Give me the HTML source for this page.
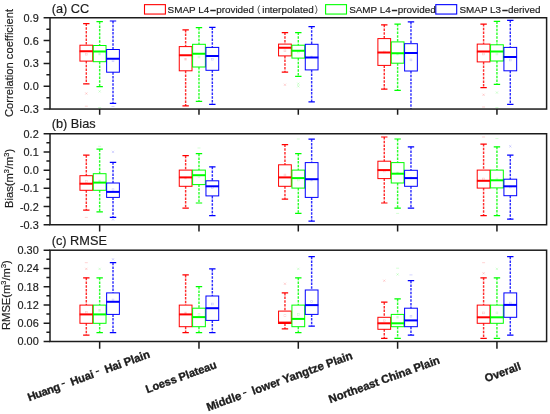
<!DOCTYPE html>
<html><head><meta charset="utf-8"><title>Boxplots</title>
<style>
html,body{margin:0;padding:0;background:#fff}
body{width:550px;height:414px;position:relative;overflow:hidden;font-family:"Liberation Sans","Noto Sans CJK SC",sans-serif;color:#1c1c1c}
.t{position:absolute;white-space:nowrap;line-height:1;-webkit-text-stroke:0.18px currentColor}
.tk{font-size:10.9px;text-align:right;width:40px;left:-1.3px}
.ti{font-size:12.75px;left:51.7px}
.lg{font-size:9.9px;top:5.0px}
.yl{font-size:11.2px;transform-origin:0 0;transform:rotate(-90deg)}
.xl{font-size:11.4px;font-weight:bold;-webkit-text-stroke:0.35px currentColor;transform-origin:0 100%;transform:rotate(-19.9deg)}
.xl i{font-style:normal;font-weight:normal;-webkit-text-stroke:0;display:inline-block;width:9px;box-sizing:border-box;padding-left:2.2px;text-align:left;position:relative;top:-1.3px;font-size:14.5px;line-height:0}
.lg b{font-weight:bold}
sup{font-size:66%;vertical-align:baseline;position:relative;top:-0.53em;line-height:0}

</style></head><body>
<svg width="550" height="414" viewBox="0 0 550 414" style="position:absolute;left:0;top:0">
<filter id="bl" x="-5%" y="-5%" width="110%" height="110%"><feGaussianBlur stdDeviation="0.3"/></filter>
<g fill="none" stroke-linecap="butt" filter="url(#bl)">
<clipPath id="cp0"><rect x="50.0" y="17.75" width="496.6" height="91.3"/></clipPath>
<g clip-path="url(#cp0)">
<g stroke="#ff0000">
<path d="M86.31 23.60V45.20M86.31 61.10V83.80" stroke-width="1.45" stroke-opacity="0.82" stroke-dasharray="2.5 1.2"/>
<path d="M83.11 23.60H89.51M83.11 83.80H89.51" stroke-width="1.2"/>
<rect x="79.94" y="45.20" width="12.75" height="15.90" stroke-width="1.0"/>
<path d="M79.64 51.30H92.98" stroke-width="2.0"/>
<rect x="85.41" y="53.30" width="1.8" height="1.8" stroke-width="0.6" opacity="0.22"/>
<path d="M85.16 92.35l2.3 2.3m-2.3 0l2.3 -2.3" stroke-width="0.75" opacity="0.22"/>
<path d="M84.81 106.20h3" stroke-width="0.8" opacity="0.22"/>
</g>
<g stroke="#00ff00">
<path d="M99.66 21.70V45.50M99.66 61.70V86.70" stroke-width="1.45" stroke-opacity="0.82" stroke-dasharray="2.5 1.2"/>
<path d="M96.46 21.70H102.86M96.46 86.70H102.86" stroke-width="1.2"/>
<rect x="93.28" y="45.50" width="12.75" height="16.20" stroke-width="1.0"/>
<path d="M92.98 51.60H106.33" stroke-width="2.0"/>
<rect x="98.76" y="53.10" width="1.8" height="1.8" stroke-width="0.6" opacity="0.22"/>
<path d="M98.51 90.25l2.3 2.3m-2.3 0l2.3 -2.3" stroke-width="0.75" opacity="0.22"/>
<path d="M98.16 107.50h3" stroke-width="0.8" opacity="0.22"/>
</g>
<g stroke="#0000ff">
<path d="M113.01 21.00V49.50M113.01 72.20V103.40" stroke-width="1.45" stroke-opacity="0.82" stroke-dasharray="2.5 1.2"/>
<path d="M109.81 21.00H116.21M109.81 103.40H116.21" stroke-width="1.2"/>
<rect x="106.63" y="49.50" width="12.75" height="22.70" stroke-width="1.0"/>
<path d="M106.33 58.80H119.68" stroke-width="2.0"/>
<rect x="112.11" y="59.90" width="1.8" height="1.8" stroke-width="0.6" opacity="0.22"/>
<path d="M111.51 106.50h3" stroke-width="0.8" opacity="0.22"/>
</g>
<g stroke="#ff0000">
<path d="M185.63 29.90V46.60M185.63 70.80V105.90" stroke-width="1.45" stroke-opacity="0.82" stroke-dasharray="2.5 1.2"/>
<path d="M182.43 29.90H188.83M182.43 105.90H188.83" stroke-width="1.2"/>
<rect x="179.26" y="46.60" width="12.75" height="24.20" stroke-width="1.0"/>
<path d="M178.96 55.20H192.31" stroke-width="2.0"/>
<rect x="184.73" y="58.30" width="1.8" height="1.8" stroke-width="0.6" opacity="0.22"/>
</g>
<g stroke="#00ff00">
<path d="M198.98 27.70V44.30M198.98 67.00V101.40" stroke-width="1.45" stroke-opacity="0.82" stroke-dasharray="2.5 1.2"/>
<path d="M195.78 27.70H202.18M195.78 101.40H202.18" stroke-width="1.2"/>
<rect x="192.61" y="44.30" width="12.75" height="22.70" stroke-width="1.0"/>
<path d="M192.31 53.70H205.66" stroke-width="2.0"/>
<rect x="198.08" y="56.10" width="1.8" height="1.8" stroke-width="0.6" opacity="0.22"/>
</g>
<g stroke="#0000ff">
<path d="M212.33 27.40V47.40M212.33 70.30V104.30" stroke-width="1.45" stroke-opacity="0.82" stroke-dasharray="2.5 1.2"/>
<path d="M209.13 27.40H215.53M209.13 104.30H215.53" stroke-width="1.2"/>
<rect x="205.96" y="47.40" width="12.75" height="22.90" stroke-width="1.0"/>
<path d="M205.66 55.90H219.01" stroke-width="2.0"/>
<rect x="211.43" y="58.30" width="1.8" height="1.8" stroke-width="0.6" opacity="0.22"/>
</g>
<g stroke="#ff0000">
<path d="M284.95 32.60V44.10M284.95 55.90V72.10" stroke-width="1.45" stroke-opacity="0.82" stroke-dasharray="2.5 1.2"/>
<path d="M281.75 32.60H288.15M281.75 72.10H288.15" stroke-width="1.2"/>
<rect x="278.57" y="44.10" width="12.75" height="11.80" stroke-width="1.0"/>
<path d="M278.27 47.70H291.62" stroke-width="2.0"/>
<rect x="284.05" y="49.90" width="1.8" height="1.8" stroke-width="0.6" opacity="0.22"/>
<path d="M283.80 83.65l2.3 2.3m-2.3 0l2.3 -2.3" stroke-width="0.75" opacity="0.22"/>
</g>
<g stroke="#00ff00">
<path d="M298.30 32.60V45.20M298.30 58.10V76.30" stroke-width="1.45" stroke-opacity="0.82" stroke-dasharray="2.5 1.2"/>
<path d="M295.10 32.60H301.50M295.10 76.30H301.50" stroke-width="1.2"/>
<rect x="291.93" y="45.20" width="12.75" height="12.90" stroke-width="1.0"/>
<path d="M291.62 50.80H304.98" stroke-width="2.0"/>
<rect x="297.40" y="51.10" width="1.8" height="1.8" stroke-width="0.6" opacity="0.22"/>
<path d="M297.15 82.55l2.3 2.3m-2.3 0l2.3 -2.3" stroke-width="0.75" opacity="0.22"/>
<path d="M297.15 85.15l2.3 2.3m-2.3 0l2.3 -2.3" stroke-width="0.75" opacity="0.22"/>
</g>
<g stroke="#0000ff">
<path d="M311.65 26.60V44.30M311.65 69.90V101.90" stroke-width="1.45" stroke-opacity="0.82" stroke-dasharray="2.5 1.2"/>
<path d="M308.45 26.60H314.85M308.45 101.90H314.85" stroke-width="1.2"/>
<rect x="305.28" y="44.30" width="12.75" height="25.60" stroke-width="1.0"/>
<path d="M304.98 57.40H318.33" stroke-width="2.0"/>
<rect x="310.75" y="56.10" width="1.8" height="1.8" stroke-width="0.6" opacity="0.22"/>
</g>
<g stroke="#ff0000">
<path d="M384.27 24.80V38.60M384.27 65.40V89.20" stroke-width="1.45" stroke-opacity="0.82" stroke-dasharray="2.5 1.2"/>
<path d="M381.07 24.80H387.47M381.07 89.20H387.47" stroke-width="1.2"/>
<rect x="377.89" y="38.60" width="12.75" height="26.80" stroke-width="1.0"/>
<path d="M377.59 52.60H390.94" stroke-width="2.0"/>
<rect x="383.37" y="51.10" width="1.8" height="1.8" stroke-width="0.6" opacity="0.22"/>
</g>
<g stroke="#00ff00">
<path d="M397.62 24.10V41.90M397.62 63.20V90.30" stroke-width="1.45" stroke-opacity="0.82" stroke-dasharray="2.5 1.2"/>
<path d="M394.42 24.10H400.82M394.42 90.30H400.82" stroke-width="1.2"/>
<rect x="391.25" y="41.90" width="12.75" height="21.30" stroke-width="1.0"/>
<path d="M390.94 53.20H404.30" stroke-width="2.0"/>
<rect x="396.72" y="53.10" width="1.8" height="1.8" stroke-width="0.6" opacity="0.22"/>
</g>
<g stroke="#0000ff">
<path d="M410.97 21.90V43.70M410.97 71.00V112.05" stroke-width="1.45" stroke-opacity="0.82" stroke-dasharray="2.5 1.2"/>
<path d="M407.77 21.90H414.17" stroke-width="1.2"/>
<rect x="404.60" y="43.70" width="12.75" height="27.30" stroke-width="1.0"/>
<path d="M404.30 53.00H417.65" stroke-width="2.0"/>
<rect x="410.07" y="59.00" width="1.8" height="1.8" stroke-width="0.6" opacity="0.22"/>
</g>
<g stroke="#ff0000">
<path d="M483.59 24.10V44.10M483.59 61.90V87.70" stroke-width="1.45" stroke-opacity="0.82" stroke-dasharray="2.5 1.2"/>
<path d="M480.39 24.10H486.79M480.39 87.70H486.79" stroke-width="1.2"/>
<rect x="477.22" y="44.10" width="12.75" height="17.80" stroke-width="1.0"/>
<path d="M476.92 51.40H490.27" stroke-width="2.0"/>
<rect x="482.69" y="53.10" width="1.8" height="1.8" stroke-width="0.6" opacity="0.22"/>
<path d="M482.44 93.65l2.3 2.3m-2.3 0l2.3 -2.3" stroke-width="0.75" opacity="0.22"/>
<path d="M482.09 107.00h3" stroke-width="0.8" opacity="0.22"/>
</g>
<g stroke="#00ff00">
<path d="M496.94 21.40V44.80M496.94 61.00V84.30" stroke-width="1.45" stroke-opacity="0.82" stroke-dasharray="2.5 1.2"/>
<path d="M493.74 21.40H500.14M493.74 84.30H500.14" stroke-width="1.2"/>
<rect x="490.57" y="44.80" width="12.75" height="16.20" stroke-width="1.0"/>
<path d="M490.27 51.40H503.62" stroke-width="2.0"/>
<rect x="496.04" y="53.10" width="1.8" height="1.8" stroke-width="0.6" opacity="0.22"/>
<path d="M495.79 91.45l2.3 2.3m-2.3 0l2.3 -2.3" stroke-width="0.75" opacity="0.22"/>
<path d="M495.44 107.50h3" stroke-width="0.8" opacity="0.22"/>
</g>
<g stroke="#0000ff">
<path d="M510.29 20.30V47.40M510.29 70.80V104.30" stroke-width="1.45" stroke-opacity="0.82" stroke-dasharray="2.5 1.2"/>
<path d="M507.09 20.30H513.49M507.09 104.30H513.49" stroke-width="1.2"/>
<rect x="503.92" y="47.40" width="12.75" height="23.40" stroke-width="1.0"/>
<path d="M503.62 57.00H516.97" stroke-width="2.0"/>
<rect x="509.39" y="59.10" width="1.8" height="1.8" stroke-width="0.6" opacity="0.22"/>
</g>
</g>
<clipPath id="cp1"><rect x="50.0" y="133.75" width="496.6" height="91.0"/></clipPath>
<g clip-path="url(#cp1)">
<g stroke="#ff0000">
<path d="M86.31 155.20V175.70M86.31 190.30V210.10" stroke-width="1.45" stroke-opacity="0.82" stroke-dasharray="2.5 1.2"/>
<path d="M83.11 155.20H89.51M83.11 210.10H89.51" stroke-width="1.2"/>
<rect x="79.94" y="175.70" width="12.75" height="14.60" stroke-width="1.0"/>
<path d="M79.64 183.70H92.98" stroke-width="2.0"/>
<rect x="85.41" y="180.50" width="1.8" height="1.8" stroke-width="0.6" opacity="0.22"/>
<path d="M84.81 217.40h3" stroke-width="0.8" opacity="0.22"/>
</g>
<g stroke="#00ff00">
<path d="M99.66 149.20V173.70M99.66 190.30V211.90" stroke-width="1.45" stroke-opacity="0.82" stroke-dasharray="2.5 1.2"/>
<path d="M96.46 149.20H102.86M96.46 211.90H102.86" stroke-width="1.2"/>
<rect x="93.28" y="173.70" width="12.75" height="16.60" stroke-width="1.0"/>
<path d="M92.98 182.60H106.33" stroke-width="2.0"/>
<rect x="98.76" y="180.10" width="1.8" height="1.8" stroke-width="0.6" opacity="0.22"/>
<path d="M98.16 146.30h3" stroke-width="0.8" opacity="0.22"/>
</g>
<g stroke="#0000ff">
<path d="M113.01 162.30V183.00M113.01 197.40V217.40" stroke-width="1.45" stroke-opacity="0.82" stroke-dasharray="2.5 1.2"/>
<path d="M109.81 162.30H116.21M109.81 217.40H116.21" stroke-width="1.2"/>
<rect x="106.63" y="183.00" width="12.75" height="14.40" stroke-width="1.0"/>
<path d="M106.33 191.90H119.68" stroke-width="2.0"/>
<rect x="112.11" y="188.80" width="1.8" height="1.8" stroke-width="0.6" opacity="0.22"/>
<path d="M111.86 150.75l2.3 2.3m-2.3 0l2.3 -2.3" stroke-width="0.75" opacity="0.22"/>
<path d="M111.86 218.35l2.3 2.3m-2.3 0l2.3 -2.3" stroke-width="0.75" opacity="0.22"/>
</g>
<g stroke="#ff0000">
<path d="M185.63 155.70V170.10M185.63 186.30V208.10" stroke-width="1.45" stroke-opacity="0.82" stroke-dasharray="2.5 1.2"/>
<path d="M182.43 155.70H188.83M182.43 208.10H188.83" stroke-width="1.2"/>
<rect x="179.26" y="170.10" width="12.75" height="16.20" stroke-width="1.0"/>
<path d="M178.96 177.40H192.31" stroke-width="2.0"/>
<rect x="184.73" y="177.10" width="1.8" height="1.8" stroke-width="0.6" opacity="0.22"/>
</g>
<g stroke="#00ff00">
<path d="M198.98 153.70V170.10M198.98 184.60V203.00" stroke-width="1.45" stroke-opacity="0.82" stroke-dasharray="2.5 1.2"/>
<path d="M195.78 153.70H202.18M195.78 203.00H202.18" stroke-width="1.2"/>
<rect x="192.61" y="170.10" width="12.75" height="14.50" stroke-width="1.0"/>
<path d="M192.31 175.20H205.66" stroke-width="2.0"/>
<rect x="198.08" y="175.60" width="1.8" height="1.8" stroke-width="0.6" opacity="0.22"/>
<path d="M197.48 148.00h3" stroke-width="0.8" opacity="0.22"/>
</g>
<g stroke="#0000ff">
<path d="M212.33 166.80V180.80M212.33 195.90V215.70" stroke-width="1.45" stroke-opacity="0.82" stroke-dasharray="2.5 1.2"/>
<path d="M209.13 166.80H215.53M209.13 215.70H215.53" stroke-width="1.2"/>
<rect x="205.96" y="180.80" width="12.75" height="15.10" stroke-width="1.0"/>
<path d="M205.66 186.30H219.01" stroke-width="2.0"/>
<rect x="211.43" y="186.60" width="1.8" height="1.8" stroke-width="0.6" opacity="0.22"/>
</g>
<g stroke="#ff0000">
<path d="M284.95 144.60V164.80M284.95 186.30V199.20" stroke-width="1.45" stroke-opacity="0.82" stroke-dasharray="2.5 1.2"/>
<path d="M281.75 144.60H288.15M281.75 199.20H288.15" stroke-width="1.2"/>
<rect x="278.57" y="164.80" width="12.75" height="21.50" stroke-width="1.0"/>
<path d="M278.27 177.40H291.62" stroke-width="2.0"/>
<rect x="284.05" y="174.10" width="1.8" height="1.8" stroke-width="0.6" opacity="0.22"/>
</g>
<g stroke="#00ff00">
<path d="M298.30 153.70V170.10M298.30 188.10V213.40" stroke-width="1.45" stroke-opacity="0.82" stroke-dasharray="2.5 1.2"/>
<path d="M295.10 153.70H301.50M295.10 213.40H301.50" stroke-width="1.2"/>
<rect x="291.93" y="170.10" width="12.75" height="18.00" stroke-width="1.0"/>
<path d="M291.62 178.10H304.98" stroke-width="2.0"/>
<rect x="297.40" y="179.10" width="1.8" height="1.8" stroke-width="0.6" opacity="0.22"/>
<path d="M296.80 139.00h3" stroke-width="0.8" opacity="0.22"/>
</g>
<g stroke="#0000ff">
<path d="M311.65 139.20V162.60M311.65 197.40V221.20" stroke-width="1.45" stroke-opacity="0.82" stroke-dasharray="2.5 1.2"/>
<path d="M308.45 139.20H314.85M308.45 221.20H314.85" stroke-width="1.2"/>
<rect x="305.28" y="162.60" width="12.75" height="34.80" stroke-width="1.0"/>
<path d="M304.98 179.20H318.33" stroke-width="2.0"/>
<rect x="310.75" y="179.10" width="1.8" height="1.8" stroke-width="0.6" opacity="0.22"/>
</g>
<g stroke="#ff0000">
<path d="M384.27 137.00V161.20M384.27 178.60V203.00" stroke-width="1.45" stroke-opacity="0.82" stroke-dasharray="2.5 1.2"/>
<path d="M381.07 137.00H387.47M381.07 203.00H387.47" stroke-width="1.2"/>
<rect x="377.89" y="161.20" width="12.75" height="17.40" stroke-width="1.0"/>
<path d="M377.59 170.10H390.94" stroke-width="2.0"/>
<rect x="383.37" y="170.10" width="1.8" height="1.8" stroke-width="0.6" opacity="0.22"/>
</g>
<g stroke="#00ff00">
<path d="M397.62 139.00V162.60M397.62 183.00V208.10" stroke-width="1.45" stroke-opacity="0.82" stroke-dasharray="2.5 1.2"/>
<path d="M394.42 139.00H400.82M394.42 208.10H400.82" stroke-width="1.2"/>
<rect x="391.25" y="162.60" width="12.75" height="20.40" stroke-width="1.0"/>
<path d="M390.94 173.70H404.30" stroke-width="2.0"/>
<rect x="396.72" y="172.10" width="1.8" height="1.8" stroke-width="0.6" opacity="0.22"/>
<path d="M396.12 213.40h3" stroke-width="0.8" opacity="0.22"/>
</g>
<g stroke="#0000ff">
<path d="M410.97 146.80V170.30M410.97 186.30V208.10" stroke-width="1.45" stroke-opacity="0.82" stroke-dasharray="2.5 1.2"/>
<path d="M407.77 146.80H414.17M407.77 208.10H414.17" stroke-width="1.2"/>
<rect x="404.60" y="170.30" width="12.75" height="16.00" stroke-width="1.0"/>
<path d="M404.30 178.10H417.65" stroke-width="2.0"/>
<rect x="410.07" y="177.10" width="1.8" height="1.8" stroke-width="0.6" opacity="0.22"/>
</g>
<g stroke="#ff0000">
<path d="M483.59 144.10V170.10M483.59 188.10V215.70" stroke-width="1.45" stroke-opacity="0.82" stroke-dasharray="2.5 1.2"/>
<path d="M480.39 144.10H486.79M480.39 215.70H486.79" stroke-width="1.2"/>
<rect x="477.22" y="170.10" width="12.75" height="18.00" stroke-width="1.0"/>
<path d="M476.92 180.80H490.27" stroke-width="2.0"/>
<rect x="482.69" y="178.10" width="1.8" height="1.8" stroke-width="0.6" opacity="0.22"/>
<path d="M482.09 137.00h3" stroke-width="0.8" opacity="0.22"/>
</g>
<g stroke="#00ff00">
<path d="M496.94 146.80V170.10M496.94 187.90V215.70" stroke-width="1.45" stroke-opacity="0.82" stroke-dasharray="2.5 1.2"/>
<path d="M493.74 146.80H500.14M493.74 215.70H500.14" stroke-width="1.2"/>
<rect x="490.57" y="170.10" width="12.75" height="17.80" stroke-width="1.0"/>
<path d="M490.27 180.30H503.62" stroke-width="2.0"/>
<rect x="496.04" y="178.10" width="1.8" height="1.8" stroke-width="0.6" opacity="0.22"/>
<path d="M495.44 138.60h3" stroke-width="0.8" opacity="0.22"/>
</g>
<g stroke="#0000ff">
<path d="M510.29 155.20V179.20M510.29 195.70V219.20" stroke-width="1.45" stroke-opacity="0.82" stroke-dasharray="2.5 1.2"/>
<path d="M507.09 155.20H513.49M507.09 219.20H513.49" stroke-width="1.2"/>
<rect x="503.92" y="179.20" width="12.75" height="16.50" stroke-width="1.0"/>
<path d="M503.62 186.30H516.97" stroke-width="2.0"/>
<rect x="509.39" y="186.10" width="1.8" height="1.8" stroke-width="0.6" opacity="0.22"/>
<path d="M509.14 145.15l2.3 2.3m-2.3 0l2.3 -2.3" stroke-width="0.75" opacity="0.22"/>
</g>
</g>
<clipPath id="cp2"><rect x="50.0" y="250.2" width="496.6" height="91.30000000000001"/></clipPath>
<g clip-path="url(#cp2)">
<g stroke="#ff0000">
<path d="M86.31 277.80V305.10M86.31 323.30V335.10" stroke-width="1.45" stroke-opacity="0.82" stroke-dasharray="2.5 1.2"/>
<path d="M83.11 277.80H89.51M83.11 335.10H89.51" stroke-width="1.2"/>
<rect x="79.94" y="305.10" width="12.75" height="18.20" stroke-width="1.0"/>
<path d="M79.64 314.40H92.98" stroke-width="2.0"/>
<rect x="85.41" y="311.30" width="1.8" height="1.8" stroke-width="0.6" opacity="0.22"/>
<path d="M85.16 267.75l2.3 2.3m-2.3 0l2.3 -2.3" stroke-width="0.75" opacity="0.22"/>
<path d="M84.81 262.70h3" stroke-width="0.8" opacity="0.22"/>
</g>
<g stroke="#00ff00">
<path d="M99.66 277.80V305.10M99.66 323.30V332.70" stroke-width="1.45" stroke-opacity="0.82" stroke-dasharray="2.5 1.2"/>
<path d="M96.46 277.80H102.86M96.46 332.70H102.86" stroke-width="1.2"/>
<rect x="93.28" y="305.10" width="12.75" height="18.20" stroke-width="1.0"/>
<path d="M92.98 314.40H106.33" stroke-width="2.0"/>
<rect x="98.76" y="309.50" width="1.8" height="1.8" stroke-width="0.6" opacity="0.22"/>
<path d="M98.51 267.75l2.3 2.3m-2.3 0l2.3 -2.3" stroke-width="0.75" opacity="0.22"/>
</g>
<g stroke="#0000ff">
<path d="M113.01 262.70V292.90M113.01 314.40V332.70" stroke-width="1.45" stroke-opacity="0.82" stroke-dasharray="2.5 1.2"/>
<path d="M109.81 262.70H116.21M109.81 332.70H116.21" stroke-width="1.2"/>
<rect x="106.63" y="292.90" width="12.75" height="21.50" stroke-width="1.0"/>
<path d="M106.33 301.80H119.68" stroke-width="2.0"/>
<rect x="112.11" y="299.10" width="1.8" height="1.8" stroke-width="0.6" opacity="0.22"/>
<path d="M111.86 258.15l2.3 2.3m-2.3 0l2.3 -2.3" stroke-width="0.75" opacity="0.22"/>
</g>
<g stroke="#ff0000">
<path d="M185.63 274.90V305.10M185.63 326.70V332.70" stroke-width="1.45" stroke-opacity="0.82" stroke-dasharray="2.5 1.2"/>
<path d="M182.43 274.90H188.83M182.43 332.70H188.83" stroke-width="1.2"/>
<rect x="179.26" y="305.10" width="12.75" height="21.60" stroke-width="1.0"/>
<path d="M178.96 314.40H192.31" stroke-width="2.0"/>
<rect x="184.73" y="312.10" width="1.8" height="1.8" stroke-width="0.6" opacity="0.22"/>
</g>
<g stroke="#00ff00">
<path d="M198.98 286.70V308.20M198.98 326.70V332.70" stroke-width="1.45" stroke-opacity="0.82" stroke-dasharray="2.5 1.2"/>
<path d="M195.78 286.70H202.18M195.78 332.70H202.18" stroke-width="1.2"/>
<rect x="192.61" y="308.20" width="12.75" height="18.50" stroke-width="1.0"/>
<path d="M192.31 317.10H205.66" stroke-width="2.0"/>
<rect x="198.08" y="313.60" width="1.8" height="1.8" stroke-width="0.6" opacity="0.22"/>
</g>
<g stroke="#0000ff">
<path d="M212.33 268.90V296.00M212.33 320.40V332.70" stroke-width="1.45" stroke-opacity="0.82" stroke-dasharray="2.5 1.2"/>
<path d="M209.13 268.90H215.53M209.13 332.70H215.53" stroke-width="1.2"/>
<rect x="205.96" y="296.00" width="12.75" height="24.40" stroke-width="1.0"/>
<path d="M205.66 308.20H219.01" stroke-width="2.0"/>
<rect x="211.43" y="303.10" width="1.8" height="1.8" stroke-width="0.6" opacity="0.22"/>
</g>
<g stroke="#ff0000">
<path d="M284.95 292.90V311.10M284.95 323.50V328.90" stroke-width="1.45" stroke-opacity="0.82" stroke-dasharray="2.5 1.2"/>
<path d="M281.75 292.90H288.15M281.75 328.90H288.15" stroke-width="1.2"/>
<rect x="278.57" y="311.10" width="12.75" height="12.40" stroke-width="1.0"/>
<path d="M278.27 322.60H291.62" stroke-width="2.0"/>
<rect x="284.05" y="314.70" width="1.8" height="1.8" stroke-width="0.6" opacity="0.22"/>
<path d="M283.80 282.65l2.3 2.3m-2.3 0l2.3 -2.3" stroke-width="0.75" opacity="0.22"/>
</g>
<g stroke="#00ff00">
<path d="M298.30 277.80V305.10M298.30 326.70V332.70" stroke-width="1.45" stroke-opacity="0.82" stroke-dasharray="2.5 1.2"/>
<path d="M295.10 277.80H301.50M295.10 332.70H301.50" stroke-width="1.2"/>
<rect x="291.93" y="305.10" width="12.75" height="21.60" stroke-width="1.0"/>
<path d="M291.62 318.90H304.98" stroke-width="2.0"/>
<rect x="297.40" y="313.50" width="1.8" height="1.8" stroke-width="0.6" opacity="0.22"/>
<path d="M297.15 267.75l2.3 2.3m-2.3 0l2.3 -2.3" stroke-width="0.75" opacity="0.22"/>
</g>
<g stroke="#0000ff">
<path d="M311.65 256.70V290.00M311.65 314.40V326.20" stroke-width="1.45" stroke-opacity="0.82" stroke-dasharray="2.5 1.2"/>
<path d="M308.45 256.70H314.85M308.45 326.20H314.85" stroke-width="1.2"/>
<rect x="305.28" y="290.00" width="12.75" height="24.40" stroke-width="1.0"/>
<path d="M304.98 305.10H318.33" stroke-width="2.0"/>
<rect x="310.75" y="300.70" width="1.8" height="1.8" stroke-width="0.6" opacity="0.22"/>
</g>
<g stroke="#ff0000">
<path d="M384.27 302.20V317.30M384.27 329.30V338.40" stroke-width="1.45" stroke-opacity="0.82" stroke-dasharray="2.5 1.2"/>
<path d="M381.07 302.20H387.47M381.07 338.40H387.47" stroke-width="1.2"/>
<rect x="377.89" y="317.30" width="12.75" height="12.00" stroke-width="1.0"/>
<path d="M377.59 323.30H390.94" stroke-width="2.0"/>
<rect x="383.37" y="319.80" width="1.8" height="1.8" stroke-width="0.6" opacity="0.22"/>
<path d="M383.12 279.55l2.3 2.3m-2.3 0l2.3 -2.3" stroke-width="0.75" opacity="0.22"/>
</g>
<g stroke="#00ff00">
<path d="M397.62 298.90V314.40M397.62 326.70V338.40" stroke-width="1.45" stroke-opacity="0.82" stroke-dasharray="2.5 1.2"/>
<path d="M394.42 298.90H400.82M394.42 338.40H400.82" stroke-width="1.2"/>
<rect x="391.25" y="314.40" width="12.75" height="12.30" stroke-width="1.0"/>
<path d="M390.94 323.30H404.30" stroke-width="2.0"/>
<rect x="396.72" y="316.40" width="1.8" height="1.8" stroke-width="0.6" opacity="0.22"/>
<path d="M396.47 273.25l2.3 2.3m-2.3 0l2.3 -2.3" stroke-width="0.75" opacity="0.22"/>
<path d="M396.12 268.20h3" stroke-width="0.8" opacity="0.22"/>
</g>
<g stroke="#0000ff">
<path d="M410.97 280.70V308.20M410.97 326.70V335.10" stroke-width="1.45" stroke-opacity="0.82" stroke-dasharray="2.5 1.2"/>
<path d="M407.77 280.70H414.17M407.77 335.10H414.17" stroke-width="1.2"/>
<rect x="404.60" y="308.20" width="12.75" height="18.50" stroke-width="1.0"/>
<path d="M404.30 320.40H417.65" stroke-width="2.0"/>
<rect x="410.07" y="315.30" width="1.8" height="1.8" stroke-width="0.6" opacity="0.22"/>
<path d="M409.47 274.90h3" stroke-width="0.8" opacity="0.22"/>
</g>
<g stroke="#ff0000">
<path d="M483.59 277.80V305.10M483.59 323.30V338.40" stroke-width="1.45" stroke-opacity="0.82" stroke-dasharray="2.5 1.2"/>
<path d="M480.39 277.80H486.79M480.39 338.40H486.79" stroke-width="1.2"/>
<rect x="477.22" y="305.10" width="12.75" height="18.20" stroke-width="1.0"/>
<path d="M476.92 317.30H490.27" stroke-width="2.0"/>
<rect x="482.69" y="312.00" width="1.8" height="1.8" stroke-width="0.6" opacity="0.22"/>
<path d="M482.44 272.15l2.3 2.3m-2.3 0l2.3 -2.3" stroke-width="0.75" opacity="0.22"/>
<path d="M482.09 262.70h3" stroke-width="0.8" opacity="0.22"/>
</g>
<g stroke="#00ff00">
<path d="M496.94 277.80V305.10M496.94 323.30V338.40" stroke-width="1.45" stroke-opacity="0.82" stroke-dasharray="2.5 1.2"/>
<path d="M493.74 277.80H500.14M493.74 338.40H500.14" stroke-width="1.2"/>
<rect x="490.57" y="305.10" width="12.75" height="18.20" stroke-width="1.0"/>
<path d="M490.27 317.30H503.62" stroke-width="2.0"/>
<rect x="496.04" y="312.00" width="1.8" height="1.8" stroke-width="0.6" opacity="0.22"/>
<path d="M495.79 267.75l2.3 2.3m-2.3 0l2.3 -2.3" stroke-width="0.75" opacity="0.22"/>
</g>
<g stroke="#0000ff">
<path d="M510.29 256.70V292.90M510.29 317.30V335.10" stroke-width="1.45" stroke-opacity="0.82" stroke-dasharray="2.5 1.2"/>
<path d="M507.09 256.70H513.49M507.09 335.10H513.49" stroke-width="1.2"/>
<rect x="503.92" y="292.90" width="12.75" height="24.40" stroke-width="1.0"/>
<path d="M503.62 304.90H516.97" stroke-width="2.0"/>
<rect x="509.39" y="302.10" width="1.8" height="1.8" stroke-width="0.6" opacity="0.22"/>
</g>
</g>
</g>
<g fill="none" stroke="#1c1c1c" stroke-width="1.5">
<rect x="50.0" y="17.75" width="496.60" height="91.30"/>
<path d="M43.60 17.75H50.0M46.40 29.16H50.0M43.60 40.58H50.0M46.40 51.99H50.0M43.60 63.40H50.0M46.40 74.81H50.0M43.60 86.22H50.0M46.40 97.64H50.0M43.60 109.05H50.0M99.66 109.05v5.7M198.98 109.05v5.7M298.30 109.05v5.7M397.62 109.05v5.7M496.94 109.05v5.7"/>
<rect x="50.0" y="133.75" width="496.60" height="91.00"/>
<path d="M43.60 133.75H50.0M46.40 142.85H50.0M43.60 151.95H50.0M46.40 161.05H50.0M43.60 170.15H50.0M46.40 179.25H50.0M43.60 188.35H50.0M46.40 197.45H50.0M43.60 206.55H50.0M46.40 215.65H50.0M43.60 224.75H50.0M99.66 224.75v6.7M198.98 224.75v6.7M298.30 224.75v6.7M397.62 224.75v6.7M496.94 224.75v6.7"/>
<rect x="50.0" y="250.2" width="496.60" height="91.30"/>
<path d="M43.60 250.20H50.0M46.40 259.33H50.0M43.60 268.46H50.0M46.40 277.59H50.0M43.60 286.72H50.0M46.40 295.85H50.0M43.60 304.98H50.0M46.40 314.11H50.0M43.60 323.24H50.0M46.40 332.37H50.0M43.60 341.50H50.0M99.66 341.50v7.2M198.98 341.50v7.2M298.30 341.50v7.2M397.62 341.50v7.2M496.94 341.50v7.2"/>
</g>
<rect x="144.5" y="4.65" width="20.9" height="9.4" fill="none" stroke="#ff0000" stroke-width="1.1"/>
<rect x="325.6" y="4.65" width="20.9" height="9.4" fill="none" stroke="#00ff00" stroke-width="1.1"/>
<rect x="435.8" y="4.65" width="20.9" height="9.4" fill="none" stroke="#0000ff" stroke-width="1.1"/>
</svg>
<div class="t tk" style="top:12.70px">0.9</div>
<div class="t tk" style="top:35.52px">0.6</div>
<div class="t tk" style="top:58.35px">0.3</div>
<div class="t tk" style="top:81.17px">0.0</div>
<div class="t tk" style="top:104.00px">-0.3</div>
<div class="t tk" style="top:128.70px">0.2</div>
<div class="t tk" style="top:146.90px">0.1</div>
<div class="t tk" style="top:165.10px">0.0</div>
<div class="t tk" style="top:183.30px">-0.1</div>
<div class="t tk" style="top:201.50px">-0.2</div>
<div class="t tk" style="top:219.70px">-0.3</div>
<div class="t tk" style="top:245.15px">0.30</div>
<div class="t tk" style="top:263.41px">0.24</div>
<div class="t tk" style="top:281.67px">0.18</div>
<div class="t tk" style="top:299.93px">0.12</div>
<div class="t tk" style="top:318.19px">0.06</div>
<div class="t tk" style="top:336.45px">0.00</div>
<div class="t ti" style="top:2.62px">(a) CC</div>
<div class="t ti" style="top:118.32px">(b) Bias</div>
<div class="t ti" style="top:235.02px">(c) RMSE</div>
<span class="t lg" style="left:167.60000000000002px;">SMAP L4</span>
<span class="t lg" style="left:210.0px;margin-top:-0.1px;font-weight:bold;-webkit-text-stroke:0.45px currentColor;width:6px;text-align:center;transform:scaleX(1.0);">–</span>
<span class="t lg" style="left:216.20000000000002px;">provided</span>
<span class="t lg" style="left:349.2px;">SAMP L4</span>
<span class="t lg" style="left:391.59999999999997px;margin-top:-0.1px;font-weight:bold;-webkit-text-stroke:0.45px currentColor;width:6px;text-align:center;transform:scaleX(1.0);">–</span>
<span class="t lg" style="left:397.8px;">provided</span>
<span class="t lg" style="left:459.5px;">SMAP L3</span>
<span class="t lg" style="left:501.9px;margin-top:-0.1px;font-weight:bold;-webkit-text-stroke:0.45px currentColor;width:6px;text-align:center;transform:scaleX(1.0);">–</span>
<span class="t lg" style="left:508.1px;">derived</span>
<span class="t lg" style="left:251.6px;width:9px;text-align:right;font-size:9px;margin-top:0.7px;color:#444;">（</span>
<span class="t lg" style="left:262.2px;">interpolated</span>
<span class="t lg" style="left:314.4px;width:9px;text-align:left;font-size:9px;margin-top:0.7px;color:#444;">）</span>
<div class="t yl" style="left:4.1px;top:117.4px">Correlation coefficient</div>
<div class="t yl" style="left:4.1px;top:207.8px">Bias(m<sup>3</sup>/m<sup>3</sup>)</div>
<div class="t yl" style="left:1.3px;top:329.5px">RMSE(m<sup>3</sup>/m<sup>3</sup>)</div>
<div class="t xl" style="left:29.8px;top:392.10px;font-size:11.2px"><span style="letter-spacing:-0.3px">Huang</span><i>-</i> Huai<i>-</i> Hai Plain</div>
<div class="t xl" style="left:148.0px;top:384.40px;font-size:11.1px">Loess Plateau</div>
<div class="t xl" style="left:208.6px;top:401.60px;font-size:11.4px">Middle<i>-</i> lower Yangtze Plain</div>
<div class="t xl" style="left:331.1px;top:393.90px;font-size:11.3px">Northeast China Plain</div>
<div class="t xl" style="left:487.2px;top:373.10px;font-size:11.1px">Overall</div>
</body></html>
